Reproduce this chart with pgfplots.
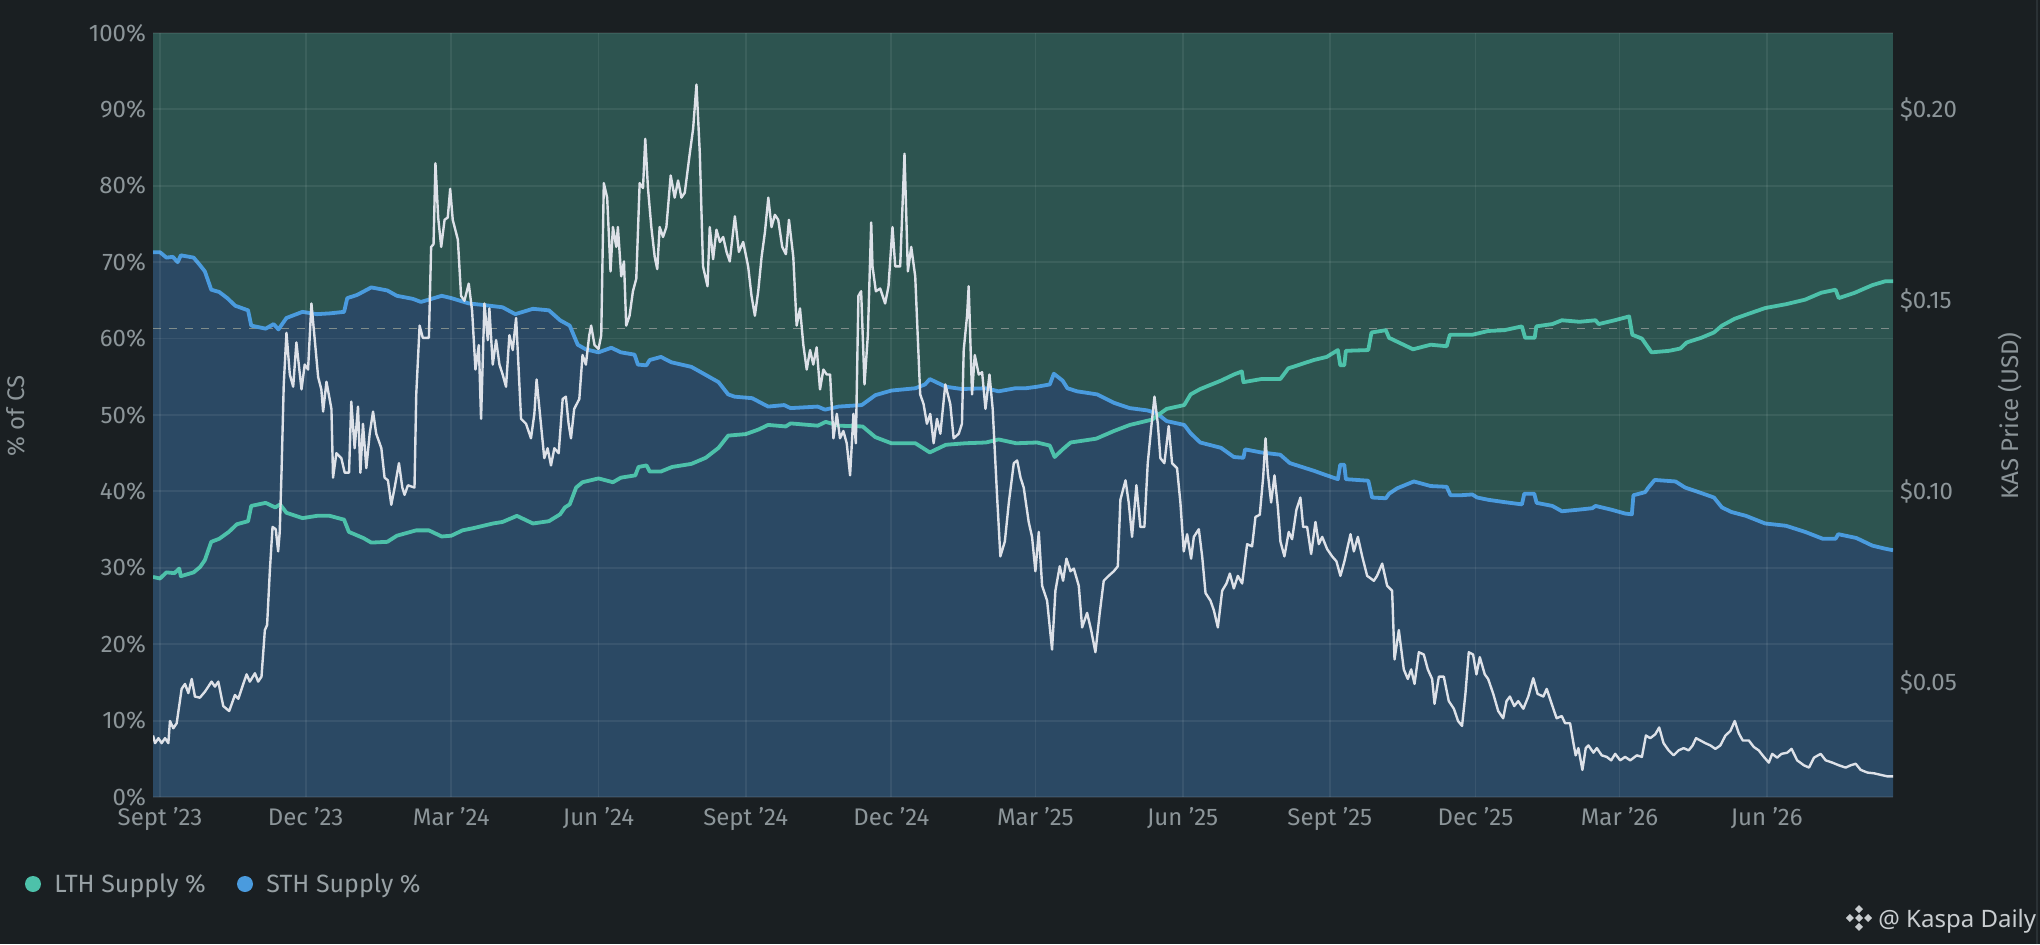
\documentclass[border=0pt]{standalone}
\usepackage{pgfplots}
\usepackage{pgfplotstable}
\pgfplotsset{compat=1.18}
\usepackage{fontspec}
\setmainfont{Fira Sans}
\newfontfamily\wmfont{Noto Sans}
\definecolor{bg}{HTML}{1A1F22}
\definecolor{lthfill}{HTML}{2D5450}
\definecolor{sthfill}{HTML}{2B4964}
\definecolor{lthline}{HTML}{4DC1AA}
\definecolor{sthline}{HTML}{4A9BDE}
\definecolor{pricecol}{HTML}{DDE1E8}
\definecolor{ticktext}{HTML}{8C9599}
\definecolor{legtext}{HTML}{98A1A5}
\definecolor{wmtext}{HTML}{C9CDD0}
\definecolor{dashcol}{HTML}{7F8C8A}
\definecolor{edgecol}{HTML}{2A3135}

\pgfplotstableread{
x y
-4.4 71.3
0 71.3
4 70.6
8 70.7
11 70.0
13 70.9
21 70.6
25 69.6
28 68.8
32 66.4
37 66.1
42 65.3
47 64.3
55 63.7
57 61.7
66 61.3
71 61.9
74 61.2
79 62.7
89 63.5
98 63.2
106 63.3
115 63.5
117 65.3
123 65.7
132 66.7
142 66.3
148 65.6
158 65.2
163 64.8
168 65.1
176 65.6
182 65.3
193 64.6
202 64.4
214 64.1
222 63.2
233 63.9
243 63.7
250 62.4
256 61.7
261 59.2
266 58.6
274 58.2
282 58.8
288 58.2
296.5 57.9
298.6 56.6
303.9 56.5
306 57.2
313 57.6
319.5 56.9
332 56.3
338 55.6
349 54.3
355 52.7
359 52.4
370 52.2
380 51.1
390 51.3
394 50.9
411 51.1
415.5 50.7
424 51.1
438.5 51.3
447 52.6
457 53.2
472 53.5
478 54.0
481 54.7
491 53.7
501 53.4
516 53.5
524 53.1
534.5 53.5
541 53.5
548 53.7
556 54.0
558.5 55.4
564 54.5
567 53.5
573 53.1
585.5 52.7
596 51.6
606 50.9
617 50.6
623 50.2
629 49.2
640 48.7
644 47.6
650 46.4
663 45.7
671 44.5
677 44.4
678 45.5
688 45.1
700 44.8
706 43.7
721 42.7
729 42.1
736 41.6
737.5 43.5
740 43.5
741 41.6
755 41.4
757.4 39.2
766 39.1
768 39.7
773 40.4
783.5 41.3
794 40.7
804 40.6
806.4 39.5
813 39.5
820 39.6
823 39.2
830 38.9
840 38.6
851 38.3
852.5 39.7
858.7 39.7
860.2 38.5
870 38.1
876 37.4
886 37.6
895 37.8
897 38.1
907 37.6
915.5 37.1
919.7 37.0
920.7 39.5
928 39.9
930 40.5
934 41.5
947 41.3
953 40.5
961.5 39.9
971 39.2
976 37.9
982 37.3
991 36.8
1003 35.8
1016 35.5
1028 34.7
1039 33.8
1047 33.8
1048.7 34.4
1060 33.9
1070 32.9
1078 32.5
1082.9 32.3
}\sthdata

\pgfplotstableread{
x y
-4.4 28.8
0 28.6
4 29.4
9 29.3
12 29.9
13 28.9
21 29.4
25 30.1
28 31.0
32 33.4
37 33.8
43 34.7
48 35.7
55 36.1
57 38.1
66 38.5
72 37.9
75 38.3
79 37.2
89 36.5
98 36.8
106 36.8
115 36.3
118 34.7
127 33.9
132 33.3
142 33.4
148 34.2
160 34.9
168 34.9
176 34.1
182 34.2
189 34.9
196 35.2
208 35.8
214 36.0
223 36.8
233 35.8
243 36.1
250 37.0
253 37.9
256 38.3
260 40.5
264 41.2
268 41.4
274 41.7
283 41.2
288 41.8
297 42.1
299 43.2
304 43.4
306 42.6
313 42.6
320 43.2
332 43.6
341 44.4
349 45.7
355 47.3
366 47.5
374 48.1
380 48.7
391 48.5
394 48.9
411 48.6
416 49.1
424 48.6
439 48.5
447 47.1
457 46.3
472 46.3
481 45.1
491 46.1
503 46.3
516 46.4
524 46.8
535 46.3
548 46.4
556 46.0
559 44.5
564 45.5
569 46.4
585 46.9
596 47.9
606 48.7
620 49.4
625 50.2
629 50.8
640 51.3
644 52.7
650 53.4
663 54.5
671 55.3
676 55.7
677 54.3
688 54.7
700 54.7
705 56.1
721 57.2
729 57.6
736 58.5
737.5 56.5
740 56.5
741 58.4
755 58.5
757 60.8
766 61.1
768 60.1
773 59.6
783 58.6
794 59.2
804 59.0
806 60.5
820 60.5
830 61.0
840 61.1
851 61.6
853 60.1
859 60.1
860 61.6
870 61.9
876 62.4
887 62.2
897 62.4
899 61.9
909 62.4
918 62.9
920 60.5
926 60.0
932 58.2
943 58.4
950 58.7
954 59.5
963 60.1
971 60.8
976 61.7
984 62.6
992 63.2
1003 64.0
1016 64.5
1028 65.1
1038 66.0
1047 66.4
1049 65.3
1059 66.0
1070 67.0
1078 67.5
1082.9 67.5
}\lthdata

\pgfplotstableread{
x y
-4.4 0.0361
-3.1 0.0341
-1.0 0.0354
1.0 0.0341
3.1 0.0354
5.2 0.0341
6.2 0.0399
8.3 0.0380
10.4 0.0393
13.5 0.0483
15.6 0.0496
17.7 0.0472
19.8 0.0509
21.8 0.0463
24.9 0.0460
28.1 0.0476
32.2 0.0502
34.3 0.0489
36.4 0.0502
39.5 0.0438
43.2 0.0425
46.8 0.0467
48.9 0.0457
52.0 0.0496
54.1 0.0521
56.1 0.0502
59.3 0.0524
61.3 0.0502
63.4 0.0515
65.5 0.0637
66.9 0.0650
68.6 0.0791
70.3 0.0907
72.3 0.0901
73.8 0.0843
74.8 0.0894
75.9 0.1049
77.3 0.1280
79.0 0.1415
81.1 0.1306
83.2 0.1274
85.2 0.1390
88.4 0.1267
90.4 0.1332
92.5 0.1319
94.6 0.1492
96.7 0.1396
98.8 0.1299
100.8 0.1267
101.9 0.1209
104.0 0.1287
107.1 0.1216
108.1 0.1036
110.2 0.1100
113.3 0.1087
115.4 0.1049
118.1 0.1049
119.5 0.1235
121.6 0.1113
123.7 0.1222
125.2 0.1049
126.8 0.1177
128.9 0.1061
131.0 0.1151
133.1 0.1209
135.1 0.1151
138.3 0.1113
140.3 0.1036
142.4 0.1029
144.5 0.0965
146.6 0.1010
149.3 0.1074
151.4 0.1010
152.8 0.0991
154.9 0.1016
159.0 0.1010
160.1 0.1254
162.2 0.1434
164.2 0.1402
168.0 0.1402
169.4 0.1640
170.9 0.1647
172.1 0.1859
173.8 0.1717
175.7 0.1640
177.8 0.1711
179.8 0.1717
181.3 0.1792
182.9 0.1711
186.1 0.1659
188.1 0.1512
190.2 0.1499
192.9 0.1544
195.0 0.1473
197.1 0.1319
199.2 0.1383
200.6 0.1190
202.7 0.1492
204.8 0.1396
205.8 0.1479
207.9 0.1332
210.0 0.1396
212.1 0.1332
214.1 0.1306
216.2 0.1274
218.3 0.1409
220.4 0.1370
222.5 0.1454
223.5 0.1370
225.6 0.1190
228.7 0.1177
231.8 0.1139
233.9 0.1203
235.3 0.1293
238.0 0.1177
240.1 0.1087
242.2 0.1113
244.3 0.1068
246.4 0.1113
249.1 0.1100
251.6 0.1242
253.6 0.1248
255.3 0.1177
256.8 0.1139
258.8 0.1216
262.0 0.1242
264.0 0.1357
266.1 0.1332
268.2 0.1409
269.4 0.1434
271.5 0.1383
274.0 0.1373
275.7 0.1409
277.3 0.1807
279.4 0.1769
281.5 0.1576
283.0 0.1692
285.1 0.1640
286.1 0.1692
288.2 0.1563
289.9 0.1602
291.3 0.1434
293.4 0.1460
295.5 0.1524
297.6 0.1557
299.7 0.1807
301.8 0.1794
303.2 0.1923
304.9 0.1794
307.0 0.1692
309.1 0.1614
310.7 0.1582
312.2 0.1692
314.3 0.1666
316.4 0.1692
319.1 0.1827
321.6 0.1769
323.7 0.1814
325.8 0.1769
327.9 0.1782
331.0 0.1884
333.1 0.1949
335.2 0.2065
337.3 0.1884
339.3 0.1589
342.1 0.1537
343.5 0.1692
345.6 0.1608
347.7 0.1685
349.8 0.1653
351.9 0.1666
354.0 0.1627
356.0 0.1602
359.2 0.1720
361.7 0.1627
364.4 0.1653
367.5 0.1589
369.6 0.1512
371.7 0.1460
373.8 0.1524
375.9 0.1614
378.0 0.1679
380.1 0.1769
382.1 0.1692
384.2 0.1724
386.3 0.1711
388.8 0.1640
391.1 0.1621
393.0 0.1711
395.7 0.1614
397.8 0.1434
399.9 0.1479
402.0 0.1383
404.1 0.1319
406.2 0.1370
408.2 0.1332
410.3 0.1377
412.4 0.1267
414.5 0.1319
416.6 0.1306
418.7 0.1306
420.8 0.1139
422.9 0.1203
424.9 0.1139
427.0 0.1158
429.1 0.1126
431.2 0.1042
433.3 0.1203
434.8 0.1126
436.4 0.1512
438.1 0.1524
440.2 0.1280
442.3 0.1409
444.4 0.1704
445.2 0.1589
447.3 0.1524
450.0 0.1531
453.1 0.1492
455.2 0.1537
457.7 0.1692
459.4 0.1589
462.5 0.1589
465.2 0.1884
467.3 0.1576
469.4 0.1640
471.9 0.1563
475.0 0.1254
477.1 0.1229
479.2 0.1177
481.3 0.1203
483.4 0.1126
485.5 0.1190
487.6 0.1151
490.7 0.1280
493.8 0.1229
495.9 0.1139
499.1 0.1151
501.1 0.1177
502.2 0.1370
504.3 0.1460
505.3 0.1537
507.4 0.1254
509.1 0.1357
511.6 0.1306
513.7 0.1312
515.8 0.1216
518.3 0.1306
520.3 0.1216
523.1 0.0984
525.1 0.0830
527.9 0.0869
530.4 0.0971
533.5 0.1074
535.6 0.1081
537.7 0.1036
539.7 0.1010
542.8 0.0920
544.9 0.0881
547.0 0.0791
549.1 0.0894
551.2 0.0753
554.3 0.0714
557.4 0.0586
559.5 0.0740
562.2 0.0804
564.3 0.0766
566.4 0.0824
568.9 0.0791
571.0 0.0798
574.1 0.0753
576.2 0.0644
579.3 0.0682
581.8 0.0637
584.5 0.0579
587.2 0.0682
589.7 0.0766
592.8 0.0779
596.0 0.0791
598.5 0.0804
600.1 0.0978
603.3 0.1029
605.3 0.0971
607.4 0.0881
610.1 0.1016
612.6 0.0907
615.1 0.0907
617.2 0.1074
619.3 0.1164
621.4 0.1248
623.5 0.1177
625.1 0.1087
627.6 0.1074
630.3 0.1171
632.4 0.1074
635.5 0.1061
637.6 0.0971
639.7 0.0843
641.8 0.0888
644.3 0.0824
646.0 0.0881
649.1 0.0901
651.2 0.0830
653.3 0.0734
656.4 0.0714
658.5 0.0689
661.0 0.0644
663.7 0.0740
666.4 0.0759
668.5 0.0785
671.0 0.0746
673.5 0.0779
676.2 0.0759
679.3 0.0862
682.4 0.0856
684.5 0.0933
687.2 0.0939
689.3 0.1036
690.8 0.1139
692.2 0.1049
694.3 0.0971
696.4 0.1042
698.5 0.0959
700.1 0.0869
702.6 0.0830
705.3 0.0894
707.4 0.0875
710.1 0.0952
712.6 0.0984
714.3 0.0907
716.8 0.0907
719.3 0.0836
722.0 0.0920
724.1 0.0862
726.2 0.0881
729.3 0.0849
732.4 0.0830
735.1 0.0817
737.6 0.0779
740.1 0.0817
743.9 0.0888
746.0 0.0843
748.5 0.0881
751.2 0.0830
754.3 0.0779
758.5 0.0766
760.5 0.0779
763.7 0.0811
766.8 0.0753
769.9 0.0740
771.4 0.0560
774.1 0.0637
777.2 0.0534
779.7 0.0509
781.8 0.0534
783.9 0.0496
786.6 0.0579
789.7 0.0573
792.2 0.0534
794.9 0.0509
796.4 0.0444
799.1 0.0515
802.2 0.0515
805.3 0.0451
808.5 0.0431
811.1 0.0399
813.6 0.0386
815.7 0.0470
817.8 0.0579
820.5 0.0573
822.6 0.0521
824.7 0.0566
827.8 0.0521
829.9 0.0509
833.1 0.0470
836.2 0.0425
839.3 0.0406
841.4 0.0451
843.5 0.0463
846.2 0.0438
848.7 0.0451
851.9 0.0431
855.0 0.0463
858.1 0.0511
860.8 0.0470
864.4 0.0463
866.5 0.0483
869.6 0.0444
872.7 0.0406
875.9 0.0412
878.0 0.0393
881.1 0.0393
883.2 0.0341
884.6 0.0309
886.3 0.0328
888.8 0.0271
890.9 0.0328
892.6 0.0335
895.7 0.0316
897.8 0.0328
900.9 0.0309
904.0 0.0305
906.8 0.0296
909.3 0.0313
912.4 0.0296
915.5 0.0305
918.7 0.0296
922.8 0.0309
926.0 0.0305
928.5 0.0361
931.2 0.0354
934.3 0.0364
936.8 0.0382
939.5 0.0341
942.7 0.0322
945.8 0.0309
948.9 0.0322
952.1 0.0328
955.2 0.0322
957.7 0.0335
959.8 0.0354
962.5 0.0348
965.6 0.0341
968.8 0.0335
971.9 0.0326
975.0 0.0335
978.2 0.0361
981.3 0.0373
984.0 0.0399
986.5 0.0367
989.0 0.0348
992.8 0.0348
995.9 0.0331
999.0 0.0322
1002.2 0.0305
1005.3 0.0290
1007.4 0.0313
1010.5 0.0303
1013.2 0.0313
1016.8 0.0316
1019.5 0.0326
1023.0 0.0296
1027.2 0.0283
1030.4 0.0277
1033.5 0.0303
1037.7 0.0313
1040.8 0.0296
1045.0 0.0290
1049.1 0.0283
1053.3 0.0277
1056.4 0.0283
1059.6 0.0287
1062.7 0.0271
1066.9 0.0264
1071.1 0.0262
1075.2 0.0258
1079.4 0.0254
1082.9 0.0254
}\pricedata

\begin{document}
\begin{tikzpicture}
\path[use as bounding box, fill=bg] (0,0) rectangle (1020pt,472pt);
\draw[edgecol, line width=1pt] (1018.5pt,0pt) -- (1018.5pt,472pt);

\begin{axis}[
  name=main,
  axis on top,
  scale only axis, width=870pt, height=382pt,
  at={(76.5pt,73.5pt)}, anchor=south west,
  xmin=-4.4, xmax=1082.9, ymin=0, ymax=100,
  axis line style={draw=none},
  tick style={draw=none}, major tick length=0pt,
  xtick={0,91,182,274,366,457,547,639,731,822,912,1004},
  xticklabels={Sept ’23, Dec ’23, Mar ’24, Jun ’24, Sept ’24, Dec ’24, Mar ’25, Jun ’25, Sept ’25, Dec ’25, Mar ’26, Jun ’26},
  xticklabel style={yshift=-1.5pt},
  ytick={0,10,20,30,40,50,60,70,80,90,100},
  yticklabels={0\%,10\%,20\%,30\%,40\%,50\%,60\%,70\%,80\%,90\%,100\%},
  grid=major,
  major grid style={white, opacity=0.07, line width=0.9pt},
  ticklabel style={font=\fontsize{12}{14}\selectfont, text=ticktext},
]
\addplot[draw=none, fill=lthfill] coordinates {(-4.4,100) (1082.9,100)} \closedcycle;
\addplot[draw=none, fill=sthfill] table[x=x,y=y] {\sthdata} \closedcycle;
\addplot[dashcol, line width=0.75pt, dash pattern=on 4pt off 4pt] coordinates {(-4.4,61.3) (1082.9,61.3)};
\addplot[sthline, line width=1.9pt, line join=round] table[x=x,y=y] {\sthdata};
\addplot[lthline, line width=1.9pt, line join=round] table[x=x,y=y] {\lthdata};
\end{axis}

\begin{axis}[
  scale only axis, width=870pt, height=382pt,
  at={(76.5pt,73.5pt)}, anchor=south west,
  xmin=-4.4, xmax=1082.9, ymin=0.02, ymax=0.22,
  axis x line=none, axis y line*=right,
  axis line style={draw=none},
  tick style={draw=none}, major tick length=0pt,
  ytick={0.05,0.10,0.15,0.20},
  yticklabels={\$0.05,\$0.10,\$0.15,\$0.20},
  ticklabel style={font=\fontsize{12}{14}\selectfont, text=ticktext},
]
\addplot[pricecol, line width=1.2pt, line join=round] table[x=x,y=y] {\pricedata};
\end{axis}

\node[rotate=90, text=ticktext, font=\fontsize{12}{14}\selectfont] at (8pt,264pt) {\% of CS};
\node[rotate=90, text=ticktext, font=\fontsize{12}{14}\selectfont] at (1005pt,264pt) {KAS Price (USD)};

\fill[lthline] (16.5pt,30pt) circle (4pt);
\node[anchor=base west, inner sep=0pt, text=legtext, font=\fontsize{12.5}{14}\selectfont] at (27pt,25.7pt) {LTH Supply \%};
\fill[sthline] (122.5pt,30pt) circle (4pt);
\node[anchor=base west, inner sep=0pt, text=legtext, font=\fontsize{12.5}{14}\selectfont] at (133pt,25.7pt) {STH Supply \%};

\foreach \dx/\dy in {0/4.4,0/-4.4,-4.6/0,4.6/0,0/0}
  \fill[wmtext] ({929.5pt+\dx pt},{13pt+\dy pt+2pt}) -- ({929.5pt+\dx pt+2pt},{13pt+\dy pt}) -- ({929.5pt+\dx pt},{13pt+\dy pt-2pt}) -- ({929.5pt+\dx pt-2pt},{13pt+\dy pt}) -- cycle;
\node[anchor=base west, inner sep=0pt, text=wmtext, font=\wmfont\fontsize{12}{14}\selectfont] at (939pt,8.5pt) {@ Kaspa Daily};
\end{tikzpicture}
\end{document}
